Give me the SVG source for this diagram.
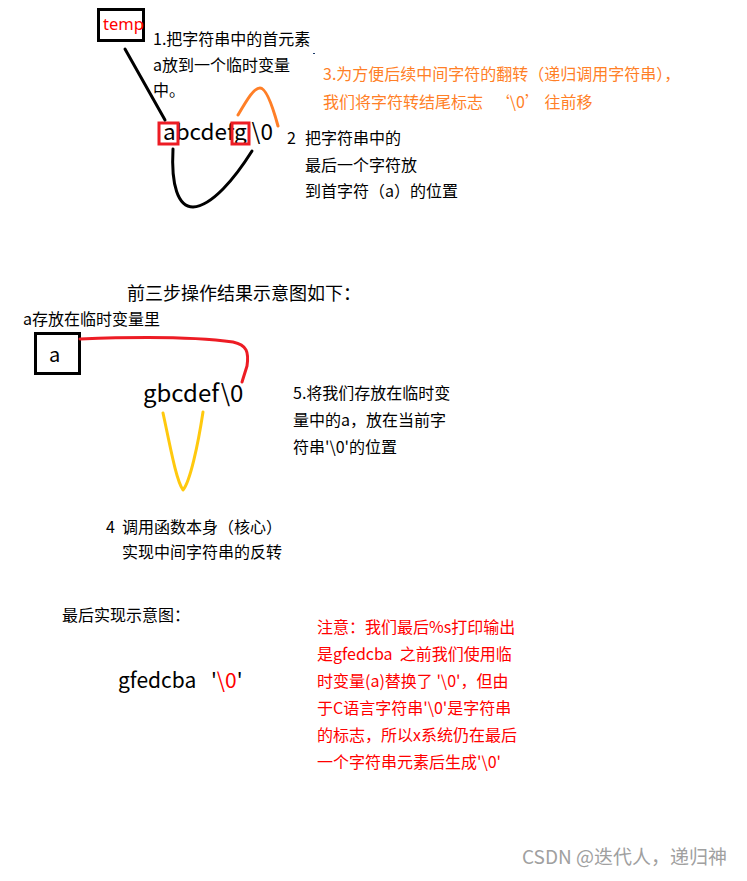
<svg xmlns="http://www.w3.org/2000/svg" width="747" height="881" viewBox="0 0 747 881">
<style>
text{font-family:"Noto Sans CJK SC","Noto Sans",sans-serif;fill:#000;white-space:pre}
.t16{font-size:16px}
.or{fill:#ff7f27}
.rd{fill:#ff0000}
.box{fill:none;stroke:#000;stroke-width:3}
.rbox{fill:none;stroke:#ed1c24;stroke-width:3}
.ln{fill:none;stroke-width:3;stroke-linecap:round;stroke-linejoin:round}
</style>
<rect width="747" height="881" fill="#fff"/>
<g id="temp">
<rect class="box" x="98.5" y="9.5" width="45" height="31"/>
<text x="103" y="30" class="rd" style="font-size:16.5px;font-family:'Noto Sans','Liberation Sans',sans-serif">temp</text>
</g>
<g id="step1" class="t16">
<text x="153" y="45">1.把字符串中的首元素</text>
<text x="153" y="71">a放到一个临时变量</text>
<text x="153" y="96">中。</text>
</g>
<rect x="313" y="53" width="2" height="1" fill="#1a3a6a"/>
<g id="step3" class="t16">
<text x="323" y="80" class="or">3.为方便后续中间字符的翻转（递归调用字符串），</text>
<text x="323" y="108" class="or" xml:space="preserve">我们将字符转结尾标志   ‘\0’ 往前移</text>
</g>
<g id="string1">
<text x="163" y="140" style="font-size:22.5px">abcdefg \0</text>
<rect class="rbox" x="159" y="123" width="19" height="21"/>
<rect class="rbox" x="232" y="123" width="17" height="21"/>
</g>
<g id="step2" class="t16">
<text x="287" y="144">2</text>
<text x="305" y="144">把字符串中的</text>
<text x="305" y="171">最后一个字符放</text>
<text x="305" y="197">到首字符（a）的位置</text>
</g>
<g id="title2">
<text x="127" y="300" style="font-size:18px">前三步操作结果示意图如下：</text>
</g>
<g id="abox">
<text x="23" y="325" class="t16">a存放在临时变量里</text>
<rect class="box" x="35.5" y="333.5" width="44" height="40"/>
<text x="49" y="362" style="font-size:20px">a</text>
</g>
<g id="string2">
<text x="143" y="402" style="font-size:24px">gbcdef\0</text>
</g>
<g id="step5" class="t16">
<text x="293" y="399">5.将我们存放在临时变</text>
<text x="293" y="426">量中的a，放在当前字</text>
<text x="293" y="453">符串'\0'的位置</text>
</g>
<g id="step4" class="t16">
<text x="106" y="533">4</text>
<text x="122" y="533">调用函数本身（核心）</text>
<text x="122" y="558">实现中间字符串的反转</text>
</g>
<g id="result">
<text x="62" y="621" class="t16">最后实现示意图：</text>
<text x="118" y="688" style="font-size:21px">gfedcba</text>
<text x="211" y="688" style="font-size:21px">'<tspan class="rd">\0</tspan>'</text>
</g>
<g id="note" class="t16">
<text x="317" y="633" class="rd">注意：我们最后%s打印输出</text>
<text x="317" y="660" class="rd" xml:space="preserve">是gfedcba  之前我们使用临</text>
<text x="317" y="687" class="rd" xml:space="preserve">时变量(a)替换了 '\0'，但由</text>
<text x="317" y="714" class="rd">于C语言字符串'\0'是字符串</text>
<text x="317" y="741" class="rd">的标志，所以x系统仍在最后</text>
<text x="317" y="768" class="rd">一个字符串元素后生成'\0'</text>
</g>
<g id="connectors">
<path class="ln" stroke="#000" d="M125,49 L165,120"/>
<path class="ln" stroke="#000" d="M173,149 C171,185 178,207 193,207 C212,206 235,178 252,151"/>
<path class="ln" stroke="#ff7f27" d="M238,115 C248,98 254,88 260,88 C266,88 272,104 278,126"/>
<path class="ln" stroke="#ed1c24" d="M80,339 C130,337 190,336 233,342 C247,345 249,352 247,366 L242,382"/>
<path class="ln" stroke="#ffc90e" d="M163,413 C170,445 176,480 183,490 C190,482 198,445 203,412"/>
</g>
<g id="watermark">
<text x="522" y="864" style="font-size:19px;fill:#a0a0a0">CSDN @迭代人，递归神</text>
</g>
</svg>
